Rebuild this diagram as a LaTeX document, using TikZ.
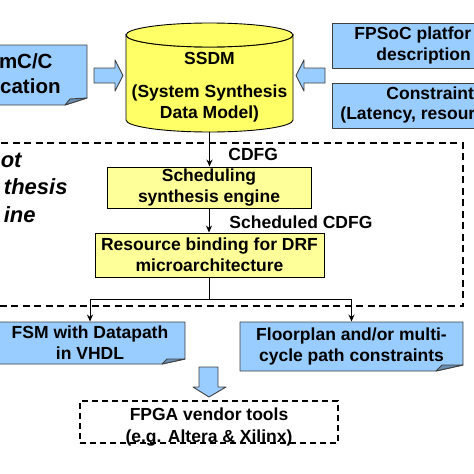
\documentclass[tikz,border=0pt]{standalone}
\usepackage{fontspec}
\setmainfont{Liberation Sans}
\usetikzlibrary{arrows.meta}
\definecolor{boxyellow}{RGB}{255,255,153}
\definecolor{cylyellow}{RGB}{255,255,102}
\definecolor{noteblue}{RGB}{153,204,255}
\begin{document}
\begin{tikzpicture}[x=1pt, y=-1pt, >={Stealth[length=7pt,width=6pt]}, line width=0.9pt,
  font=\fontsize{17.5}{21}\selectfont\bfseries,
  ybox/.style={draw, rectangle, fill=boxyellow, align=center, inner sep=0pt},
  note/.style={draw=black!75, fill=noteblue, line join=round},
  fold/.style={draw=black!75, fill=noteblue!70!black, line join=round},
  txt/.style={align=center, inner sep=0pt},
  frame/.style={dash pattern=on 7pt off 4.5pt, line width=1.4pt}]
\useasboundingbox (0,0) rectangle (474,474);
\clip (0,0) rectangle (474,474);

% data model
\filldraw[fill=cylyellow] (126,35) -- (126,120) arc[start angle=180, end angle=0, x radius=83.5, y radius=12]
  -- (293,35) arc[start angle=0, end angle=180, x radius=83.5, y radius=12] -- cycle;
\filldraw[fill=cylyellow] (209.5,35) ellipse[x radius=83.5, y radius=12];
\node[txt, anchor=base] (ssdm) at (209.5,64) {SSDM};
\node[txt, anchor=base] (ssdmfull) at (209.5,97) {(System Synthesis};
\node[txt, anchor=base] (ssdmmodel) at (209.5,118) {Data Model)};
\coordinate (ssdmbot) at (209.5,132);

% inputs
\filldraw[note] (-80,45) -- (87,45) -- (87,98) -- (65,105) -- (-80,105) -- cycle;
\filldraw[fold] (65,105) -- (70,99) -- (87,98) -- cycle;
\node[txt, anchor=base east, font=\fontsize{20.5}{24}\selectfont\bfseries] (specA) at (53,68) {mC/C};
\node[txt, anchor=base east, font=\fontsize{20.5}{24}\selectfont\bfseries] (specB) at (61,93) {cation};
\filldraw[note] (94,68) -- (115,68) -- (115,60) -- (123,75.5) -- (115,91) -- (115,83) -- (94,83) -- cycle;

\filldraw[note] (332,23) rectangle (490,68);
\filldraw[note] (332,83) rectangle (490,128);
\node[txt, anchor=base west] (platA) at (354,39) {FPSoC platfor};
\node[txt, anchor=base west] (platB) at (376,60) {description};
\node[txt, anchor=base west] (consA) at (386,99) {Constraint};
\node[txt, anchor=base west] (consB) at (340,119) {(Latency, resour};
\filldraw[note] (325,68) -- (304,68) -- (304,60) -- (296,75.5) -- (304,91) -- (304,83) -- (325,83) -- cycle;

% synthesis engine
\draw[frame] (-10,143) rectangle (463,306);
\node[txt, anchor=base east, font=\fontsize{22}{26}\selectfont\bfseries\itshape] (engA) at (22,167) {ot};
\node[txt, anchor=base east, font=\fontsize{22}{26}\selectfont\bfseries\itshape] (engB) at (68,194) {thesis};
\node[txt, anchor=base east, font=\fontsize{22}{26}\selectfont\bfseries\itshape] (engC) at (36,222) {ine};

\node[ybox, minimum width=204pt, minimum height=41pt] (sched) at (209,187.5) {Scheduling\\synthesis engine};
\node[ybox, minimum width=229pt, minimum height=44pt] (bind) at (209.5,255) {Resource binding for DRF\\microarchitecture};
\draw[->] (ssdmbot) -- (ssdmbot |- sched.north);
\node[txt, anchor=base west] (cdfg) at (228,160) {CDFG};
\draw[->] (sched.south) -- (sched.south |- bind.north);
\node[txt, anchor=base west] (scdfg) at (229,228) {Scheduled CDFG};

% outputs
\filldraw[note] (-10,322) -- (185,322) -- (185,359) -- (162,364) -- (-10,364) -- cycle;
\filldraw[fold] (162,364) -- (167,359) -- (185,359) -- cycle;
\node[txt, minimum width=190pt, minimum height=42pt] (fsm) at (90,343) {FSM with Datapath\\in VHDL};
\filldraw[note] (240,322) -- (463,322) -- (463,365) -- (436,371) -- (240,371) -- cycle;
\filldraw[fold] (436,371) -- (442,365) -- (463,365) -- cycle;
\node[txt, minimum width=223pt, minimum height=49pt] (floor) at (351.5,346.5) {Floorplan and/or multi-\\cycle path constraints};
\coordinate (split) at (209.5,299);
\draw (bind.south) -- (split);
\draw[->] (split) -| (fsm.north);
\draw[->] (split) -| (floor.north);

\filldraw[note] (199,367) -- (218,367) -- (218,387) -- (226,387) -- (209,397) -- (193,387) -- (199,387) -- cycle;
\node[draw, frame, line width=1.2pt, dash pattern=on 6pt off 4pt, minimum width=258pt, minimum height=42pt] (vendor) at (209,422) {};
\node[txt, anchor=base] (vendorA) at (vendor.center |- 0,420) {FPGA vendor tools};
\node[txt, anchor=base] (vendorB) at (vendor.center |- 0,442) {(e.g. Altera \& Xilinx)};
\end{tikzpicture}
\end{document}
